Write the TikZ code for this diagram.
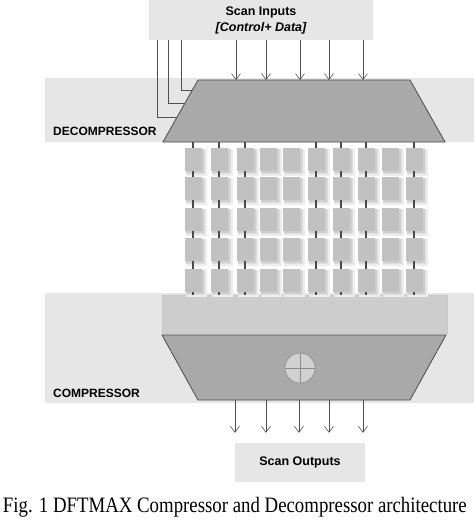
\documentclass[tikz,border=0pt]{standalone}
\usepackage{fontspec}
\setmainfont{Liberation Sans}
\newfontfamily\capfont{Liberation Serif}
\usetikzlibrary{arrows.meta,calc}
\definecolor{band}{HTML}{E6E6E6}
\definecolor{trap}{HTML}{A9A9A9}
\definecolor{edge}{HTML}{4A4A4A}
\definecolor{cell}{HTML}{C1C1C1}
\definecolor{shadA}{HTML}{CFCFCF}
\definecolor{shadB}{HTML}{DEDEDE}
\definecolor{shadC}{HTML}{EDEDED}
\definecolor{reg}{HTML}{CDCDCD}
\definecolor{wire}{HTML}{505050}
\begin{document}
\begin{tikzpicture}[x=1pt,y=-1pt,
  bandbox/.style={fill=band, draw=none, inner sep=0pt, anchor=north west},
  iobox/.style={fill=band, draw=none, inner sep=0pt, align=center, font=\bfseries\fontsize{12.5}{16}\selectfont},
  trapez/.style={fill=trap, draw=edge, line width=0.8pt, line join=miter},
  wireline/.style={draw=wire, line width=0.6pt},
  arr/.style={wireline, -{Straight Barb[length=6pt,width=9pt]}},
  lab/.style={font=\bfseries\fontsize{12}{14}\selectfont, anchor=west, inner sep=0pt},
  cellbox/.style={fill=cell, draw=none, minimum width=17pt, minimum height=23pt, inner sep=0pt, anchor=north west},
  chain/.style={draw=edge, line width=1.3pt},
]
\useasboundingbox (0,0) rectangle (474,520);
\fill[white] (0,0) rectangle (474,520);

% bands
\node[bandbox, minimum width=429pt, minimum height=64pt] (dband) at (45,78) {};
\node[bandbox, minimum width=429pt, minimum height=110pt] (cband) at (45,293) {};

% I/O boxes
\node[iobox, minimum width=224pt, minimum height=40pt] (in) at (261,20) {Scan Inputs\\\itshape [Control+ Data]};
\node[iobox, minimum width=130pt, minimum height=39pt] (out) at (300,462.5) {Scan Outputs};

% decompressor
\coordinate (dtl) at (198,80);
\coordinate (dtr) at (410,80);
\coordinate (dbr) at (445,142);
\coordinate (dbl) at (163,142);
\draw[trapez] (dtl) -- (dtr) -- (dbr) -- (dbl) -- cycle;

% side control wires
\coordinate (l1) at (157,0);
\coordinate (l2) at (168,0);
\coordinate (l3) at (181,0);
\coordinate (w1) at ($(dtl)!0.597!(dbl)$);
\coordinate (w2) at ($(dtl)!0.371!(dbl)$);
\coordinate (w3) at ($(dtl)!0.161!(dbl)$);
\draw[wireline] (in.south -| l1) |- (w1);
\draw[wireline] (in.south -| l2) |- (w2);
\draw[wireline] (in.south -| l3) |- (w3);

% input arrows
\foreach \x [count=\i] in {236,266,300,329,363} {
  \coordinate (it\i) at (\x,80);
  \draw[arr] (in.south -| it\i) -- (it\i);
}

% register
\node[fill=reg, draw=black!22, line width=0.4pt, inner sep=0pt, minimum width=285pt, minimum height=38pt, anchor=north west] (reg) at (162,295) {};

% cell shadows
\foreach \x in {185,211,237,260,283,308,333,358,382,406} {
  \foreach \y in {148,177,208,238,269} {
    \fill[shadC] (\x+1,\y+1) rectangle ++(20.5,26.5);
    \fill[shadB] (\x+1,\y+1) rectangle ++(19,25);
    \fill[shadA] (\x+1,\y+1) rectangle ++(17.5,23.5);
  }
}
% scan chain lines
\foreach \x [count=\i] in {193,219,245,316,341,366,414} {
  \coordinate (dtap\i) at (\x,142);
  \coordinate (rtap\i) at (\x,295);
  \draw[chain] (dtap\i) -- (rtap\i);
}
% cells
\foreach \x [count=\i] in {185,211,237,260,283,308,333,358,382,406} {
  \foreach \y [count=\j] in {148,177,208,238,269} {
    \node[cellbox] (c\i-\j) at (\x,\y) {};
  }
}

% compressor
\coordinate (ctl) at (162,335);
\coordinate (ctr) at (446,335);
\coordinate (cbr) at (410,400);
\coordinate (cbl) at (198,400);
\draw[trapez] (ctl) -- (ctr) -- (cbr) -- (cbl) -- cycle;
\node[circle, fill=black!18, draw=black!45, line width=0.6pt, minimum size=30pt, inner sep=0pt] (xor) at (300,368) {};
\draw[draw=black!45, line width=0.6pt] (xor.north) -- (xor.south) (xor.west) -- (xor.east);

% output arrows
\foreach \x [count=\i] in {235,266,299,329,363} {
  \coordinate (ot\i) at (\x,400);
  \draw[arr, shorten >=10pt] (ot\i) -- (out.north -| ot\i);
}

% labels
\node[lab] (dlab) at (53,131) {DECOMPRESSOR};
\node[lab] (clab) at (53,393) {COMPRESSOR};

% caption
\node[font=\capfont\fontsize{22}{26}\selectfont, anchor=base east, inner sep=0pt] (cap) at (467,512) {\scalebox{0.855}[1]{Fig. 1 DFTMAX Compressor and Decompressor architecture}};
\end{tikzpicture}
\end{document}
